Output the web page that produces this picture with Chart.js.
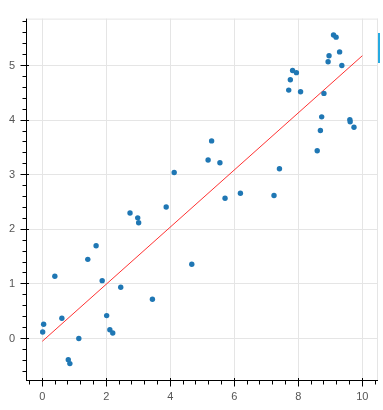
<!DOCTYPE html>
<html><head><meta charset="utf-8">
<script src="https://cdn.jsdelivr.net/npm/chart.js@4/dist/chart.umd.min.js"></script>
<style>html,body{margin:0;padding:0;background:#fff;}canvas{display:block;}</style>
</head><body>
<canvas id="c" width="383" height="410"></canvas>
<script>
const xValues = [0.01, 0.04, 0.39, 0.61, 0.81, 0.86, 1.14, 1.42, 1.68, 1.87,
  2.01, 2.11, 2.20, 2.45, 2.74, 2.98, 3.01, 3.44, 3.87, 4.12,
  4.67, 5.18, 5.29, 5.55, 5.71, 6.19, 7.24, 7.41, 7.70, 7.75,
  7.82, 7.94, 8.07, 8.59, 8.69, 8.73, 8.80, 8.93, 8.96, 9.10,
  9.18, 9.29, 9.36, 9.61, 9.62, 9.74];
const yValues = [0.12, 0.26, 1.14, 0.37, -0.39, -0.46, 0.00, 1.45, 1.70, 1.06,
  0.42, 0.16, 0.10, 0.94, 2.30, 2.21, 2.12, 0.72, 2.41, 3.04,
  1.36, 3.27, 3.62, 3.22, 2.57, 2.66, 2.62, 3.11, 4.55, 4.74,
  4.91, 4.87, 4.52, 3.44, 3.81, 4.06, 4.49, 5.07, 5.18, 5.56,
  5.52, 5.25, 5.00, 4.01, 3.97, 3.87];
const fitX = [0, 10];
const fitY = [-0.05, 5.18];
const xTickValues = [0, 2, 4, 6, 8, 10];
const yTickValues = [0, 1, 2, 3, 4, 5];
const xMinorPerMajor = 5;
const yMinorPerMajor = 5;

function align(p){ return Math.round(p - 0.5) + 0.5; }

const axisPlugin = {
  id: 'bokehAxes',
  afterDraw(chart){
    const {ctx, chartArea: a, scales: {x, y}} = chart;
    ctx.save();
    ctx.lineWidth = 1;
    ctx.strokeStyle = '#e5e5e5';
    ctx.beginPath();
    ctx.moveTo(a.left, a.top + 0.5); ctx.lineTo(a.right, a.top + 0.5);
    ctx.moveTo(a.right - 0.5, a.top); ctx.lineTo(a.right - 0.5, a.bottom);
    ctx.stroke();
    ctx.strokeStyle = '#000';
    const ax = a.left - 0.5, ay = a.bottom + 0.5;
    ctx.beginPath();
    ctx.moveTo(ax, a.top); ctx.lineTo(ax, a.bottom + 1);
    ctx.moveTo(a.left - 1, ay); ctx.lineTo(a.right, ay);
    xTickValues.forEach(v => { const px = align(x.getPixelForValue(v)); ctx.moveTo(px, ay - 2.5); ctx.lineTo(px, ay + 6); });
    yTickValues.forEach(v => { const py = align(y.getPixelForValue(v)); ctx.moveTo(ax + 2.5, py); ctx.lineTo(ax - 6, py); });
    const xs = (xTickValues[1] - xTickValues[0]) / xMinorPerMajor;
    for (let k = Math.ceil(x.min / xs); k * xs <= x.max; k++) {
      if (k % xMinorPerMajor === 0) continue;
      const px = align(x.getPixelForValue(k * xs)); ctx.moveTo(px, ay); ctx.lineTo(px, ay + 4);
    }
    const ys = (yTickValues[1] - yTickValues[0]) / yMinorPerMajor;
    for (let k = Math.ceil(y.min / ys); k * ys <= y.max; k++) {
      if (k % yMinorPerMajor === 0) continue;
      const py = align(y.getPixelForValue(k * ys)); ctx.moveTo(ax, py); ctx.lineTo(ax - 4, py);
    }
    ctx.stroke();
    ctx.fillStyle = '#26aae1';
    ctx.fillRect(378, 33, 2, 30);
    ctx.restore();
  }
};

const tickFont = {family: '"Liberation Sans", Arial, Helvetica, sans-serif', size: 11};

new Chart(document.getElementById('c'), {
  data: {
    datasets: [
      { type: 'scatter', order: 0,
        data: xValues.map((v, i) => ({x: v, y: yValues[i]})),
        backgroundColor: '#1f77b4', borderColor: '#1f77b4',
        pointRadius: 2.7, borderWidth: 0, pointHoverRadius: 2.7 },
      { type: 'line', order: 1,
        data: fitX.map((v, i) => ({x: v, y: fitY[i]})),
        borderColor: 'rgba(255,0,0,0.9)', borderWidth: 0.9, pointRadius: 0, fill: false, tension: 0 }
    ]
  },
  options: {
    responsive: false, animation: false, devicePixelRatio: 1,
    layout: { padding: { top: 9, right: 5, left: 0, bottom: 0 } },
    plugins: { legend: { display: false }, tooltip: { enabled: false } },
    scales: {
      x: { type: 'linear', min: -0.48, max: 10.49,
        afterBuildTicks: s => { s.ticks = xTickValues.map(v => ({value: v})); },
        afterFit: s => { s.height = 30; },
        grid: { color: '#e5e5e5', drawTicks: false },
        border: { display: false },
        ticks: { font: tickFont, color: '#555555', padding: 10, maxRotation: 0, autoSkip: false } },
      y: { type: 'linear', min: -0.76, max: 5.86,
        afterBuildTicks: s => { s.ticks = yTickValues.map(v => ({value: v})); },
        afterFit: s => { s.width = 27; },
        grid: { color: '#e5e5e5', drawTicks: false },
        border: { display: false },
        ticks: { font: tickFont, color: '#555555', padding: 12, autoSkip: false } }
    }
  },
  plugins: [axisPlugin]
});
</script>
</body></html>
